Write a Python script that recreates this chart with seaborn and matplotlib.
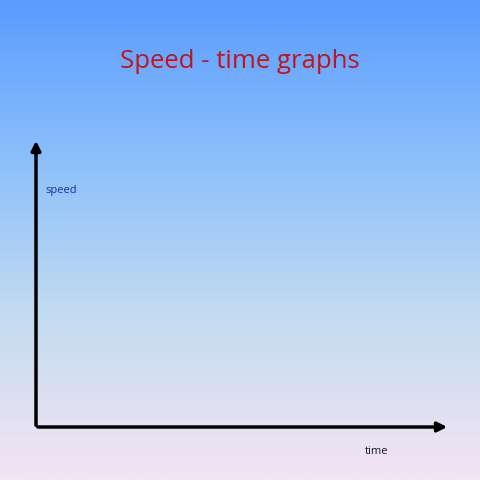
import numpy as np
import matplotlib.pyplot as plt
import seaborn as sns
from matplotlib.colors import LinearSegmentedColormap

sns.set_theme(style="white")
plt.rcParams['font.family'] = ['Open Sans', 'DejaVu Sans']

title = "Speed - time graphs"
y_label = "speed"
x_label = "time"

fig = plt.figure(figsize=(4.8, 4.8), dpi=100)

# gradient background
bg = fig.add_axes([0, 0, 1, 1])
cmap = LinearSegmentedColormap.from_list(
    "bg", ["#5a9cff", "#8cc0fa", "#c4dcf0", "#f4e4f4"])
grad = np.linspace(0, 1, 256).reshape(-1, 1)
bg.imshow(grad, aspect="auto", cmap=cmap, extent=[0, 480, 480, 0])
bg.set_xlim(0, 480)
bg.set_ylim(480, 0)
bg.axis("off")

# axes arrows (pixel coordinates)
arrow = dict(arrowstyle="-|>", color="black", lw=2.5, mutation_scale=14)
bg.annotate("", xy=(36, 138), xytext=(36, 428), arrowprops=arrow)
bg.annotate("", xy=(450, 427), xytext=(35, 427), arrowprops=arrow)

bg.text(240, 62, title, color="#c0141e", fontsize=18.5, ha="center", va="center")
bg.text(45, 190, y_label, color="#1a2fa0", fontsize=8, ha="left", va="center")
bg.text(365, 451, x_label, color="#1a1a2a", fontsize=8, ha="left", va="center")

fig.savefig("out.png", dpi=100)
